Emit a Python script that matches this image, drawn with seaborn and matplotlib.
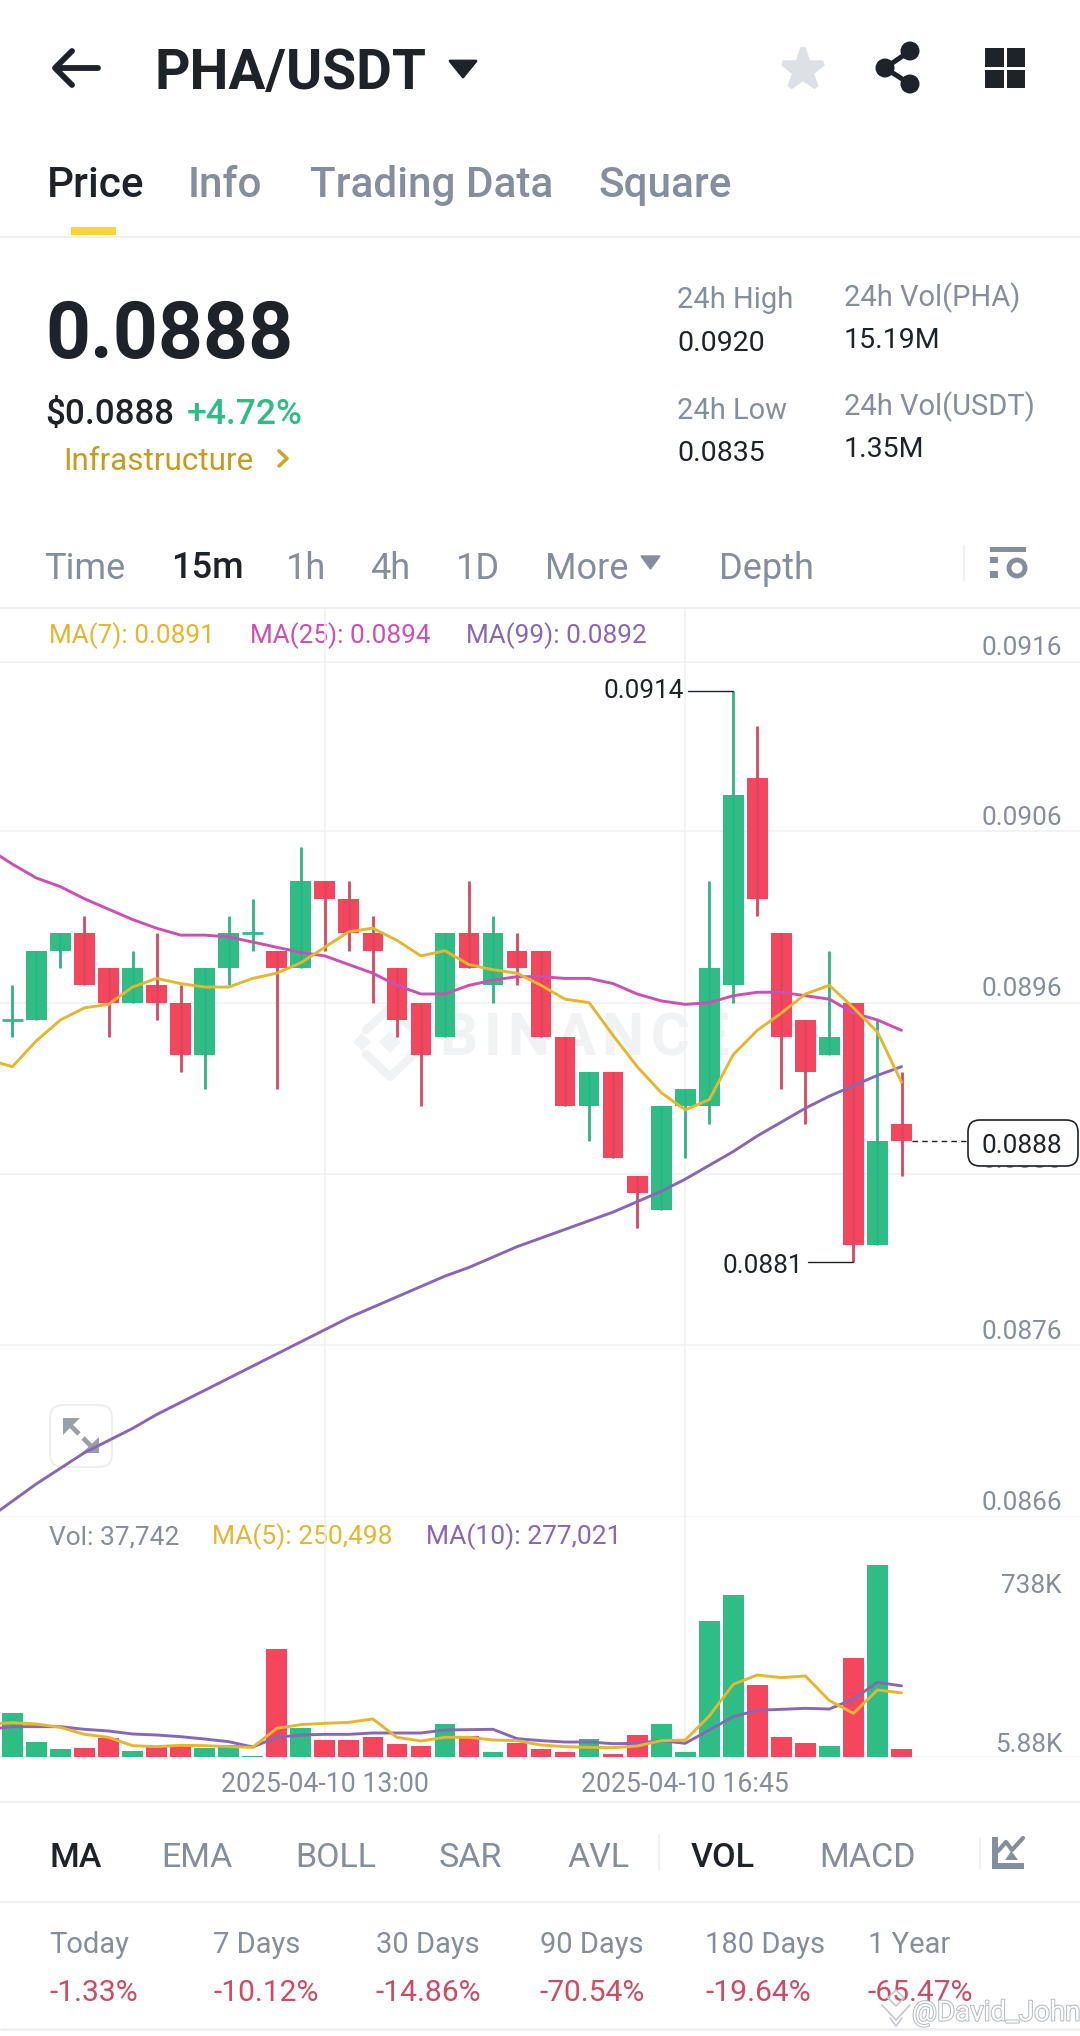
import matplotlib
matplotlib.use('Agg')
import matplotlib.pyplot as plt
import matplotlib.patheffects as pe
from matplotlib.patches import Circle, FancyBboxPatch, Polygon, Rectangle
import pandas as pd
import seaborn as sns

# candles, 15m
opens = [.0895, .0895, .0899, .0900, .0898, .0896, .0897, .0896, .0893, .0898, .0900, .0899, .0898, .0903, .0902, .0900,
         .0898, .0896, .0894, .0900, .0897, .0899, .0899, .0894, .0890, .0892, .0886, .0884, .0890, .0890, .0897, .0909,
         .0900, .0895, .0893, .0896, .0882, .0889]
closes = [.0895, .0899, .0900, .0897, .0896, .0898, .0896, .0893, .0898, .0900, .0900, .0898, .0903, .0902, .0900, .0899,
          .0895, .0893, .0900, .0898, .0900, .0898, .0894, .0890, .0892, .0887, .0885, .0890, .0891, .0898, .0908, .0902,
          .0894, .0892, .0894, .0882, .0888, .0888]
highs = [.0897, .0899, .0900, .0901, .0898, .0899, .0900, .0897, .0898, .0901, .0902, .0899, .0905, .0903, .0903, .0901,
         .0898, .0896, .0900, .0903, .0901, .0900, .0899, .0894, .0892, .0892, .0886, .0890, .0891, .0903, .0914, .0912,
         .0900, .0895, .0899, .0896, .0895, .0892]
lows = [.0894, .0895, .0898, .0897, .0894, .0896, .0895, .0892, .0891, .0897, .0899, .0891, .0898, .0899, .0899, .0896,
        .0894, .0890, .0894, .0898, .0896, .0897, .0894, .0890, .0888, .0887, .0883, .0884, .0887, .0889, .0896, .0901,
        .0891, .0889, .0893, .0881, .0882, .0886]

# moving averages start one candle before the left edge
ma7 = [.08927, .08923, .08938, .08950, .08957, .08959, .08969, .08974, .08971, .08969, .08969, .08974, .08977, .08983,
       .08992, .09001, .09003, .08996, .08987, .08990, .08982, .08979, .08977, .08970, .08962, .08960, .08941, .08923,
       .08908, .08898, .08904, .08930, .08944, .08954, .08965, .08970, .08957, .08943, .08914]
ma25 = [.09049, .09040, .09032, .09027, .09020, .09014, .09008, .09003, .08999, .08999, .08998, .08995, .08992, .08989,
        .08987, .08982, .08977, .08970, .08965, .08965, .08970, .08973, .08975, .08975, .08974, .08974, .08971, .08965,
        .08961, .08959, .08960, .08964, .08966, .08966, .08964, .08962, .08954, .08950, .08944]
ma99 = [.08662, .08672, .08682, .08691, .08700, .08707, .08714, .08722, .08729, .08736, .08743, .08750, .08757, .08764,
        .08771, .08778, .08784, .08790, .08796, .08802, .08807, .08813, .08819, .08824, .08829, .08834, .08839, .08845,
        .08851, .08858, .08866, .08874, .08883, .08891, .08899, .08906, .08912, .08918, .08923]

# volume in thousands
volumes = [173.6, 64.3, 36.4, 41.5, 78.3, 30.0, 47.8, 51.6, 38.9, 51.6, 8.4, 416.0, 116.0, 70.7, 70.7, 83.4, 54.2, 47.8, 131.7,
           86.0, 26.2, 58.0, 35.0, 26.2, 73.2, 17.3, 91.0, 133.0, 26.2, 523.0, 623.6, 280.4, 82.1, 58.0, 47.8, 383.4, 738.0, 37.7]
vol_ma5 = [131.7, 136.8, 131.7, 119.0, 92.3, 80.9, 49.1, 45.3, 50.4, 49.1, 45.3, 42.7, 115.2, 129.2, 134.3, 138.1, 150.8, 80.9,
           66.9, 80.9, 80.9, 70.7, 68.2, 51.6, 45.3, 42.7, 41.5, 47.8, 68.2, 70.7, 162.2, 283.0, 318.5, 308.4, 314.7, 220.7,
           172.4, 261.4, 250.5]
vol_ma10 = [111.4, 121.5, 121.5, 121.5, 111.4, 105.0, 93.6, 89.8, 83.4, 74.5, 64.3, 44.0, 80.9, 89.8, 92.3, 92.3, 97.4, 97.4,
            97.4, 108.8, 110.1, 111.4, 75.8, 68.2, 63.0, 63.0, 56.7, 58.0, 68.2, 58.0, 108.8, 159.7, 183.8, 187.6, 191.4,
            188.9, 227.0, 290.6, 277.0]

price_ticks = [.09157, .09059, .08960, .08861, .08762, .08663]
vol_tick_labels = [(738.0, '738K'), (5.88, '5.88K')]
date_ticks = [13, 28]
date_labels = ['2025-04-10 13:00', '2025-04-10 16:45']

tabs = ['Price', 'Info', 'Trading Data', 'Square']
intervals = ['Time', '15m', '1h', '4h', '1D', 'More', 'Depth']
indicators = ['MA', 'EMA', 'BOLL', 'SAR', 'AVL', 'VOL', 'MACD']
periods = ['Today', '7 Days', '30 Days', '90 Days', '180 Days', '1 Year']
period_changes = ['-1.33%', '-10.12%', '-14.86%', '-70.54%', '-19.64%', '-65.47%']

GREEN = '#2EBD85'
RED = '#F6465D'
DARK = '#1E2329'
GRAY = '#848E9C'
LINE = '#EEF0F2'
GOLD = '#E6B62C'
PINK = '#CE4FB4'
PURPLE = '#8A66B8'

sns.set_theme(style='white')
plt.rcParams['font.family'] = ['Roboto', 'DejaVu Sans']

fig = plt.figure(figsize=(10.8, 20.36), dpi=100)


def pixel_axes(z):
    ax = fig.add_axes([0, 0, 1, 1], zorder=z)
    ax.set_xlim(0, 1080)
    ax.set_ylim(2036, 0)
    ax.axis('off')
    return ax


page = pixel_axes(0)
over = pixel_axes(3)


def txt(x, y, s, size, color=GRAY, weight='normal', ha='left', ax=page):
    return ax.text(x, y + 3, s, fontsize=size, color=color, fontweight=weight, ha=ha, va='center')


def hline(y, lw=1.5):
    page.plot([0, 1080], [y, y], color=LINE, lw=lw, solid_capstyle='butt')


# header
page.plot([98, 56], [68, 68], color=DARK, lw=4.2)
page.plot([72, 55, 72], [51, 68, 85], color=DARK, lw=4.2)
txt(154, 71, 'PHA/USDT', 39.6, DARK, 'bold')
page.add_patch(Polygon([(450, 61), (476, 61), (463, 77)], closed=True, fc=DARK, ec=DARK, lw=2, joinstyle='round'))
page.plot([803], [70], marker='*', ms=31, mew=4, color='#DDE0E4', mec='#DDE0E4')
page.plot([910, 885, 910], [51, 68, 84], color=DARK, lw=3.6)
for cx, cy in [(910, 51), (885, 68), (910, 84)]:
    page.add_patch(Circle((cx, cy), 9.5, fc=DARK, ec='none'))
for gx in [985, 1006.5]:
    for gy in [48, 69.5]:
        page.add_patch(Rectangle((gx, gy), 18.5, 18.5, fc=DARK, ec='none'))

for x, name in zip([47, 188, 310, 598], tabs):
    txt(x, 182, name, 30.4, DARK if name == 'Price' else GRAY, 'medium')
page.add_patch(Rectangle((71, 227), 45, 8, fc='#FCD535', ec='none'))
hline(237)

# ticker block
txt(45, 333, '0.0888', 56.6, DARK, 'bold')
txt(45, 411, '$0.0888', 25.2, DARK, 'medium')
txt(187, 411, '+4.72%', 25.5, GREEN, 'medium')
txt(63, 458, 'Infrastructure', 22.6, '#C99A1B')
page.plot([279, 287, 279], [451, 458.5, 466], color='#D4A51F', lw=2.6)
txt(677, 297, '24h High', 21)
txt(677, 340, '0.0920', 20.5, DARK)
txt(677, 408, '24h Low', 21)
txt(677, 450, '0.0835', 20.5, DARK)
txt(844, 295, '24h Vol(PHA)', 21)
txt(844, 337, '15.19M', 20.5, DARK)
txt(844, 404, '24h Vol(USDT)', 21)
txt(844, 446, '1.35M', 20.5, DARK)

# interval row
for x, name in zip([44, 171, 286, 370, 456, 545, 719], intervals):
    txt(x, 566, name, 26, DARK if name == '15m' else GRAY, 'medium' if name == '15m' else 'normal')
page.add_patch(Polygon([(641, 556), (660, 556), (650.5, 569)], closed=True, fc=GRAY, ec=GRAY, lw=1))
page.plot([964, 964], [546, 580], color=LINE, lw=1.5)
page.add_patch(Rectangle((990, 547), 36, 5, fc=GRAY, ec='none'))
page.add_patch(Rectangle((990, 557), 8, 6, fc=GRAY, ec='none'))
page.add_patch(Rectangle((990, 571), 8, 7, fc=GRAY, ec='none'))
page.add_patch(Circle((1017, 568), 8, fc='white', ec=GRAY, lw=3.5))
hline(608)

# legends
txt(49, 633, 'MA(7): 0.0891', 18.8, GOLD)
txt(250, 633, 'MA(25): 0.0894', 18.8, PINK)
txt(466, 633, 'MA(99): 0.0892', 18.8, PURPLE)
txt(49, 1534, 'Vol: 37,742', 19)
txt(212, 1534, 'MA(5): 250,498', 19, GOLD)
txt(426, 1534, 'MA(10): 277,021', 19, PURPLE)

# binance watermark behind the candles
WM = '#F1F2F3'
for letter, x in zip('BINANCE', [458, 492, 528, 576, 622, 670, 712]):
    page.text(x, 1039, letter, fontsize=43, color=WM, fontweight='bold', ha='center', va='center')
page.plot([366, 390, 414], [1030, 1008, 1030], color=WM, lw=6)
page.plot([366, 390, 414], [1054, 1077, 1054], color=WM, lw=6)
for cx, r in [(362, 9), (390, 11), (418, 9)]:
    page.add_patch(Polygon([(cx - r, 1042), (cx, 1042 - r), (cx + r, 1042), (cx, 1042 + r)], closed=True, fc=WM, ec='none'))

# expand button
page.add_patch(FancyBboxPatch((50, 1405), 62, 62, boxstyle='round,pad=0,rounding_size=13', fc='none', ec='#ECEEF0', lw=1.5))
page.add_patch(Polygon([(63, 1418), (80, 1418), (63, 1435)], closed=True, fc='#9AA0A8', ec='none'))
page.add_patch(Polygon([(99, 1437), (99, 1453), (82, 1453)], closed=True, fc='#9AA0A8', ec='none'))
page.plot([70, 79], [1425, 1434], color='#9AA0A8', lw=3.4, solid_capstyle='butt')
page.plot([83, 92], [1438, 1447], color='#9AA0A8', lw=3.4, solid_capstyle='butt')

# bottom rows
hline(1802)
for x, name in zip([49, 161, 295, 439, 567, 691, 819], indicators):
    active = name in ('MA', 'VOL')
    txt(x, 1855, name, 24.5, DARK if active else GRAY, 'medium' if active else 'normal')
page.plot([659, 659], [1835, 1870], color=LINE, lw=1.5)
page.plot([980, 980], [1838, 1868], color=LINE, lw=1.5)
page.add_patch(Rectangle((992, 1837), 6, 32, fc=GRAY, ec='none'))
page.add_patch(Rectangle((992, 1863), 32, 6, fc=GRAY, ec='none'))
page.plot([998, 1006, 1012, 1023], [1851, 1842, 1850, 1838], color=GRAY, lw=3)
page.add_patch(Polygon([(1005, 1860), (1018, 1860), (1011.5, 1851)], closed=True, fc=GRAY, ec='none'))
hline(1902)
for x, name, chg in zip([49, 213, 376, 540, 705, 868], periods, period_changes):
    txt(x, 1942, name, 21)
    txt(x, 1990, chg, 21.6, '#CF4A62')
hline(2029, 2)

# user mark
mark = txt(912, 2010, '@David_John', 20, 'white', ax=over)
mark.set_path_effects([pe.withStroke(linewidth=1.4, foreground='#B5B9BF')])
over.plot([882, 896, 910], [2005, 2020, 2005], color='#C5C8CD', lw=1.2)
over.plot([888, 896, 904, 896, 888], [1998, 2006, 1998, 1990, 1998], color='#C5C8CD', lw=1.2)
over.plot([890, 896, 902], [2018, 2026, 2018], color='#C5C8CD', lw=1.2)

# price panel
x_left = -12.4 / 24.03
x_right = (1080 - 12.4) / 24.03
candles = pd.DataFrame({'open': opens, 'close': closes, 'high': highs, 'low': lows})
candles['idx'] = candles.index
candles['side'] = ['up' if c >= o else 'down' for o, c in zip(opens, closes)]

ax = fig.add_axes([0, 1 - 1516.7 / 2036, 1, (1516.7 - 608) / 2036], zorder=1)
ax.patch.set_visible(False)
for _, c in candles.iterrows():
    up = c['side'] == 'up'
    ax.vlines(c['idx'], c['low'], c['high'], color='#2EB388' if up else '#D8485F', lw=2)
    if c['open'] == c['close']:
        ax.hlines(c['open'], c['idx'] - .43, c['idx'] + .43, color=GREEN, lw=2)
    else:
        ax.bar(c['idx'], abs(c['close'] - c['open']), bottom=min(c['open'], c['close']), width=.86,
               color=GREEN if up else RED, linewidth=0)

for series, color in [(ma99, PURPLE), (ma25, PINK), (ma7, GOLD)]:
    df_ma = pd.DataFrame({'idx': range(-1, 38), 'value': series})
    sns.lineplot(data=df_ma, x='idx', y='value', color=color, linewidth=2.1, estimator=None, sort=False, legend=False, ax=ax)

ax.set_xlim(x_left, x_right)
ax.set_ylim(.08663, .09188)
ax.set_xticks(date_ticks)
ax.set_yticks(price_ticks)
ax.grid(True, color=LINE, lw=1.1)
ax.set_axisbelow(True)
ax.tick_params(length=0, labelbottom=False, labelleft=False)
ax.set_xlabel('')
ax.set_ylabel('')
sns.despine(ax=ax, left=True, bottom=True)

for tick in price_ticks:
    ax.annotate(f'{tick:.4f}', xy=(1062 / 1080, tick), xycoords=ax.get_yaxis_transform(), xytext=(0, 4.5),
                textcoords='offset points', ha='right', va='baseline', fontsize=18.8, color=GRAY)

# high / low leaders
top_i = highs.index(max(highs))
low_i = lows.index(min(lows))
ax.plot([28.1, top_i], [max(highs), max(highs)], color=DARK, lw=1)
ax.text(27.95, max(highs), f'{max(highs):.4f}', ha='right', va='center', fontsize=18.8, color=DARK)
ax.plot([33.1, low_i], [min(lows), min(lows)], color=DARK, lw=1)
ax.annotate(f'{min(lows):.4f}', xy=(32.9, min(lows)), xytext=(0, -2.5), textcoords='offset points', ha='right', va='center',
            fontsize=18.8, color=DARK)
ax.hlines(closes[-1], 37.44, 39.7, color=DARK, lw=1, linestyles=(0, (4, 3)))

# current price tag
over.add_patch(FancyBboxPatch((968, 1120), 110, 46, boxstyle='round,pad=0,rounding_size=12', fc='white', ec=DARK, lw=1.2))
txt(1062, 1143, f'{closes[-1]:.4f}', 18.8, DARK, ha='right', ax=over)

# volume panel
df_vol = pd.DataFrame({'idx': candles['idx'], 'vol': volumes, 'side': candles['side']})
axv = fig.add_axes([0, 1 - 1757 / 2036, 1, (1757 - 1516.7) / 2036], zorder=1)
axv.patch.set_visible(False)
sns.barplot(data=df_vol, x='idx', y='vol', hue='side', palette={'up': GREEN, 'down': RED}, native_scale=True, dodge=False,
            width=.86, saturation=1, legend=False, linewidth=0, ax=axv)
for series, color in [(vol_ma10, PURPLE), (vol_ma5, GOLD)]:
    df_ma = pd.DataFrame({'idx': range(-1, 38), 'value': series})
    sns.lineplot(data=df_ma, x='idx', y='value', color=color, linewidth=2.1, estimator=None, sort=False, legend=False, ax=axv)
axv.set_xlim(x_left, x_right)
axv.set_ylim(5.88, 922)
axv.set_xticks(date_ticks, date_labels)
axv.set_yticks([5.88])
axv.grid(True, color=LINE, lw=1.1)
axv.set_axisbelow(True)
axv.tick_params(axis='x', length=0, pad=10, labelsize=19.2, labelcolor=GRAY)
axv.tick_params(axis='y', length=0, labelleft=False)
axv.set_xlabel('')
axv.set_ylabel('')
sns.despine(ax=axv, left=True, bottom=True)
for value, label in vol_tick_labels:
    axv.annotate(label, xy=(1062 / 1080, value), xycoords=axv.get_yaxis_transform(), xytext=(0, 3.5 if value < 10 else -20.5),
                 textcoords='offset points', ha='right', va='baseline', fontsize=18.8, color=GRAY)

fig.savefig('out.png', dpi=100, facecolor='white')
